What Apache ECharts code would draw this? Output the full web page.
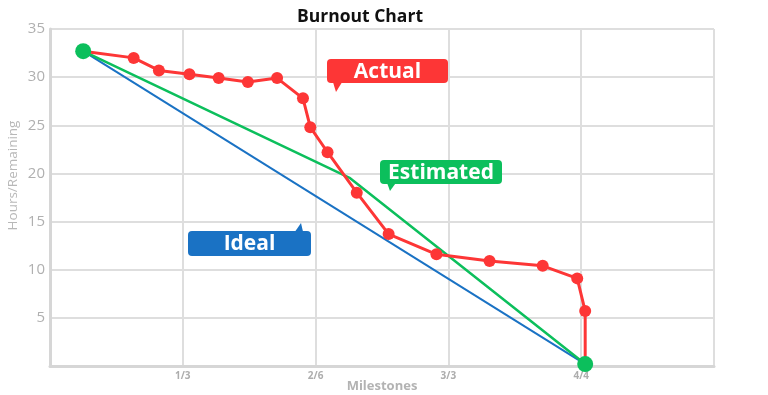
<!DOCTYPE html>
<html><head><meta charset="utf-8">
<script src="https://cdn.jsdelivr.net/npm/echarts@6/dist/echarts.min.js"></script>
<style>html,body{margin:0;padding:0;background:#fff}#c{width:768px;height:395px}</style>
</head><body><div id="c"></div>
<script>
const xTickLabels = ['', '1/3', '2/6', '3/3', '4/4', ''];
const idealData = [[0.25, 32.7], [4.03, 0.2]];
const estimatedData = [[0.25, 32.7], [2.26, 19.5], [4.03, 0.2]];
const actualX = [0.25, 0.63, 0.82, 1.05, 1.27, 1.49, 1.71, 1.905, 1.96, 2.09, 2.31, 2.55, 2.91, 3.31, 3.71, 3.97, 4.03, 4.03];
const actualY = [32.7, 32.0, 30.7, 30.3, 29.9, 29.5, 29.9, 27.8, 24.8, 22.2, 18.0, 13.7, 11.6, 10.9, 10.4, 9.1, 5.7, 0.2];
const endpoints = [[0.25, 32.7], [4.03, 0.2]];

const RED = '#fd3636', GREEN = '#0cbf5c', BLUE = '#1a72c4', GRID = '#dedede';
const FONT = '"Open Sans", Lato, sans-serif';

function callout(x, y, w, h, color, text, tail) {
  return {
    type: 'group', left: x, top: y, z: 100,
    children: [
      { type: 'polygon', z: 100, shape: { points: tail }, style: { fill: color } },
      { type: 'rect', z: 100, shape: { x: 0, y: 0, width: w, height: h, r: 4 }, style: { fill: color } },
      { type: 'text', z: 101, style: { text: text, x: w / 2, y: h / 2 + 1, fill: '#fff', font: 'bold 21px ' + FONT, align: 'center', verticalAlign: 'middle' } }
    ]
  };
}

const chart = echarts.init(document.getElementById('c'));
chart.setOption({
  animation: false,
  title: { text: 'Burnout Chart', left: 355, textAlign: 'center', top: 3,
    textStyle: { fontFamily: FONT, fontWeight: 'bold', fontSize: 17.5, color: '#111' } },
  grid: { left: 50, right: 54, top: 29, bottom: 29, containLabel: false, outerBoundsMode: 'none' },
  xAxis: {
    type: 'value', min: 0, max: 5, interval: 1,
    name: 'Milestones', nameLocation: 'middle', nameGap: 14, nameMoveOverlap: false,
    nameTextStyle: { fontFamily: FONT, fontWeight: 'bold', fontSize: 13, color: '#b3b3b3' },
    axisLine: { show: true, lineStyle: { color: '#d6d6d6', width: 3 } },
    axisTick: { show: false },
    axisLabel: { margin: 5, fontFamily: FONT, fontWeight: 'bold', fontSize: 10, color: '#adadad',
      formatter: v => xTickLabels[Math.round(v)] || '' },
    splitLine: { show: true, lineStyle: { color: GRID, width: 2 } }
  },
  yAxis: {
    type: 'value', min: 0, max: 35, interval: 5,
    name: 'Hours/Remaining', nameLocation: 'middle', nameGap: 30, nameRotate: 90, nameMoveOverlap: false,
    nameTextStyle: { fontFamily: FONT, fontSize: 13.5, color: '#b8b8b8', padding: [0, 0, 0, 44] },
    axisLine: { show: true, lineStyle: { color: '#d6d6d6', width: 3 } },
    axisTick: { show: false },
    axisLabel: { margin: 5, fontFamily: FONT, fontSize: 15, color: '#b0b0b0',
      formatter: v => v === 0 ? '' : String(v) },
    splitLine: { show: true, lineStyle: { color: GRID, width: 2 } }
  },
  series: [
    { name: 'Ideal', type: 'line', data: idealData, showSymbol: false, lineStyle: { color: BLUE, width: 2 }, z: 2 },
    { name: 'Estimated', type: 'line', data: estimatedData, showSymbol: false, lineStyle: { color: GREEN, width: 2.5 }, z: 3 },
    { name: 'Actual', type: 'line', data: actualX.map((x, i) => [x, actualY[i]]), symbol: 'circle', symbolSize: 12,
      showAllSymbol: true, itemStyle: { color: RED }, lineStyle: { color: RED, width: 3 }, z: 4 },
    { name: 'Endpoints', type: 'scatter', data: endpoints, symbolSize: 16, itemStyle: { color: GREEN, opacity: 1 }, z: 5 }
  ],
  graphic: [
    callout(327, 59, 121, 24, RED, 'Actual', [[5, 20], [17, 20], [9, 33]]),
    callout(380, 160, 122, 24, GREEN, 'Estimated', [[6, 20], [18, 20], [10, 31]]),
    callout(188, 223, 123, 25, BLUE, 'Ideal', [[104, 5], [116, 5], [113, -8]])
  ]
});
</script></body></html>
